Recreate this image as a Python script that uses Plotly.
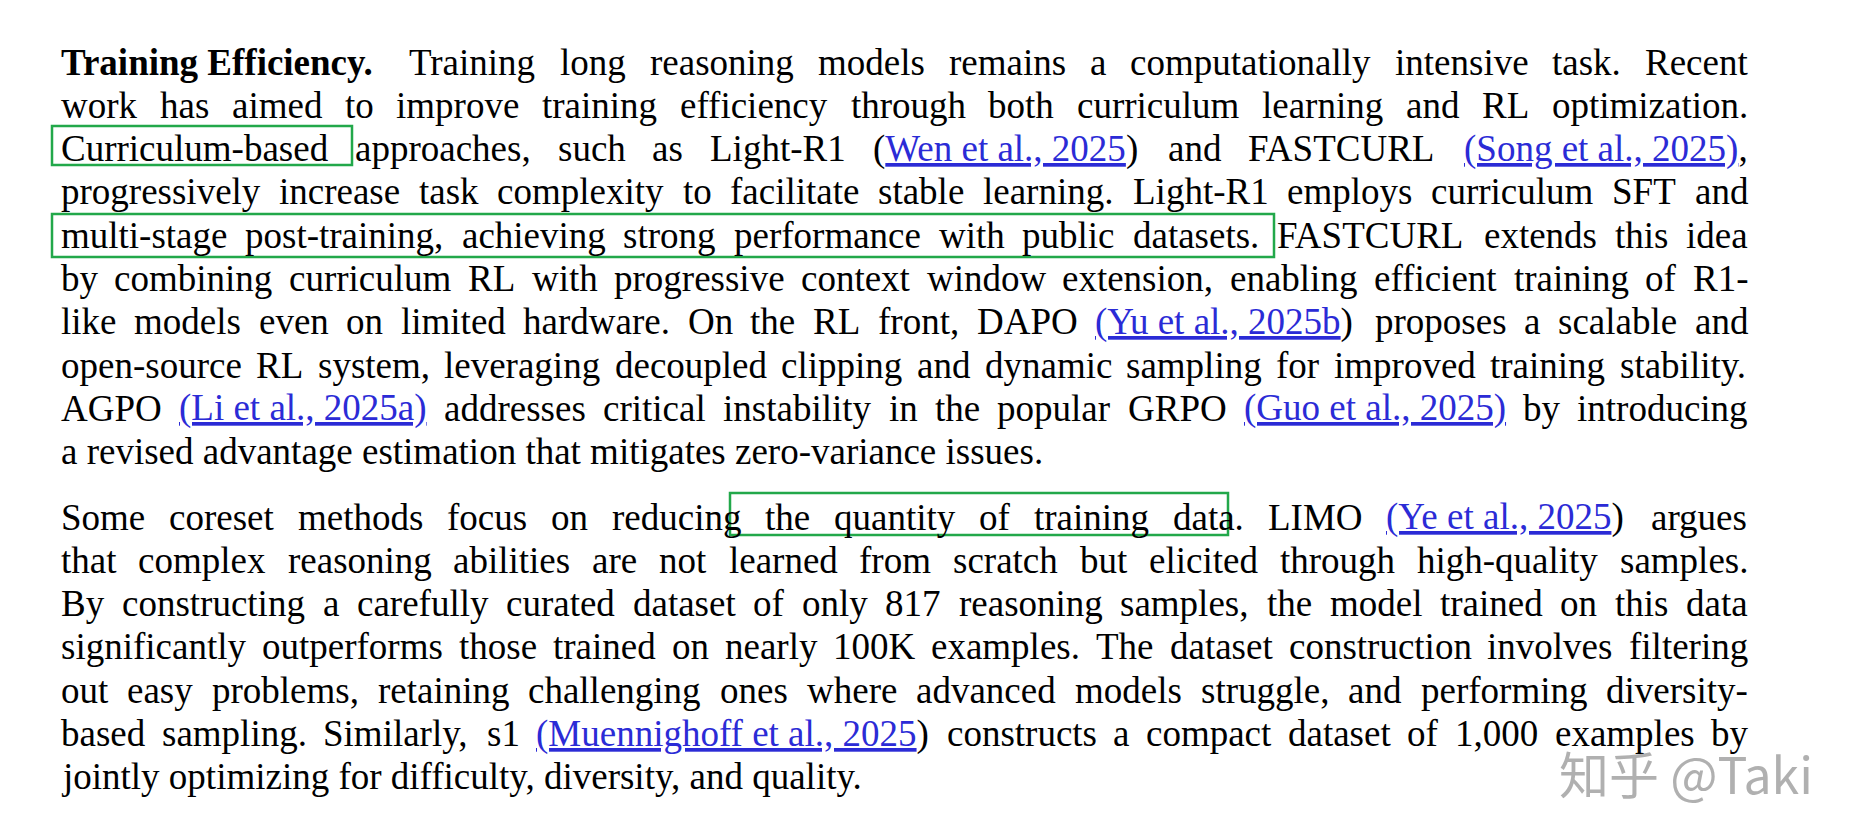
import re
import plotly.graph_objects as go

W_PX, H_PX = 1868, 840
LEFT, RIGHT = 51, 1738
FONT = "Liberation Serif"
FSIZE = 37
LINK = "#2b2bd6"

para1 = [
    "**Training Efficiency.**  Training long reasoning models remains a computationally intensive task. Recent",
    "work has aimed to improve training efficiency through both curriculum learning and RL optimization.",
    "Curriculum-based approaches, such as Light-R1 ([Wen et al., 2025]) and FASTCURL [(Song et al., 2025)],",
    "progressively increase task complexity to facilitate stable learning. Light-R1 employs curriculum SFT and",
    "multi-stage post-training, achieving strong performance with public datasets. FASTCURL extends this idea",
    "by combining curriculum RL with progressive context window extension, enabling efficient training of R1-",
    "like models even on limited hardware. On the RL front, DAPO [(Yu et al., 2025b]) proposes a scalable and",
    "open-source RL system, leveraging decoupled clipping and dynamic sampling for improved training stability.",
    "AGPO [(Li et al., 2025a)] addresses critical instability in the popular GRPO [(Guo et al., 2025)] by introducing",
    "a revised advantage estimation that mitigates zero-variance issues.",
]
para2 = [
    "Some coreset methods focus on reducing the quantity of training data. LIMO [(Ye et al., 2025]) argues",
    "that complex reasoning abilities are not learned from scratch but elicited through high-quality samples.",
    "By constructing a carefully curated dataset of only 817 reasoning samples, the model trained on this data",
    "significantly outperforms those trained on nearly 100K examples. The dataset construction involves filtering",
    "out easy problems, retaining challenging ones where advanced models struggle, and performing diversity-",
    "based sampling. Similarly, s1 [(Muennighoff et al., 2025]) constructs a compact dataset of 1,000 examples by",
    "jointly optimizing for difficulty, diversity, and quality.",
]
para_top = [54, 509]
line_gap = 43.3
boxes = [(44, 118, 344, 157), (44, 206, 1266, 249), (722, 485, 1220, 527)]
watermark = "知乎 @Taki"

# approximate Times-like advance widths (per 1000 em)
_W = dict(zip("abcdefghijklmnopqrstuvwxyz",
              [444, 500, 444, 500, 444, 333, 500, 500, 278, 278, 500, 278, 778, 500, 500, 500, 500, 333, 389, 278, 500, 500, 722, 500, 500, 444]))
_W.update(zip("ABCDEFGHIJKLMNOPQRSTUVWXYZ",
              [722, 667, 667, 722, 611, 556, 722, 722, 333, 389, 722, 611, 889, 722, 722, 556, 722, 667, 556, 611, 722, 722, 944, 722, 722, 611]))
_W.update({d: 500 for d in "0123456789"})
_W.update({" ": 250, ".": 250, ",": 250, "(": 333, ")": 333, "-": 333})


def tokenize(line):
    toks, cur, depth, bold = [], "", 0, False
    i = 0
    while i < len(line):
        if line.startswith("**", i):
            bold = not bold
            cur += "**"
            i += 2
            continue
        c = line[i]
        if c == "[":
            depth += 1
        elif c == "]":
            depth -= 1
        if c == " " and depth == 0 and not bold:
            if cur:
                toks.append(cur)
            cur = ""
        else:
            cur += c
        i += 1
    if cur:
        toks.append(cur)
    return toks


def plain(t):
    return t.replace("[", "").replace("]", "").replace("**", "")


def width(t):
    f = 1.08 if "**" in t else 1.0
    return sum(_W.get(c, 500) for c in plain(t)) / 1000 * FSIZE * f


def to_html(t):
    t = re.sub(r"\*\*(.+?)\*\*", r"<b>\1</b>", t)
    t = re.sub(r"\[(.+?)\]", lambda m: f"<span style='color:{LINK}'><u>{m.group(1)}</u></span>", t)
    return t


fig = go.Figure()
ann = []
for top, lines in zip(para_top, [para1, para2]):
    for i, line in enumerate(lines):
        y = top + i * line_gap
        if i == len(lines) - 1:
            ann.append(dict(x=LEFT, y=y, text=to_html(line), xanchor="left", yanchor="middle",
                            showarrow=False, font=dict(family=FONT, size=FSIZE, color="black")))
            continue
        toks = tokenize(line)
        ws = [width(t) for t in toks]
        gap = (RIGHT - LEFT - sum(ws)) / (len(toks) - 1)
        x = LEFT
        for t, w in zip(toks, ws):
            ann.append(dict(x=x, y=y, text=to_html(t), xanchor="left", yanchor="middle",
                            showarrow=False, font=dict(family=FONT, size=FSIZE, color="black")))
            x += w + gap

ann.append(dict(x=1678, y=764, text=watermark, xanchor="center", yanchor="middle", showarrow=False,
                font=dict(family="Noto Sans CJK SC", size=50, color="rgba(150,150,150,0.75)")))

shapes = [dict(type="rect", x0=a, y0=b, x1=c, y1=d, line=dict(color="#22a84a", width=2.5))
          for a, b, c, d in boxes]

fig.update_layout(width=W_PX, height=H_PX, margin=dict(l=0, r=0, t=0, b=0),
                  paper_bgcolor="white", plot_bgcolor="white",
                  xaxis=dict(range=[0, W_PX], visible=False, fixedrange=True),
                  yaxis=dict(range=[H_PX, 0], visible=False, fixedrange=True),
                  annotations=ann, shapes=shapes, showlegend=False)
fig.write_html("out.html")
